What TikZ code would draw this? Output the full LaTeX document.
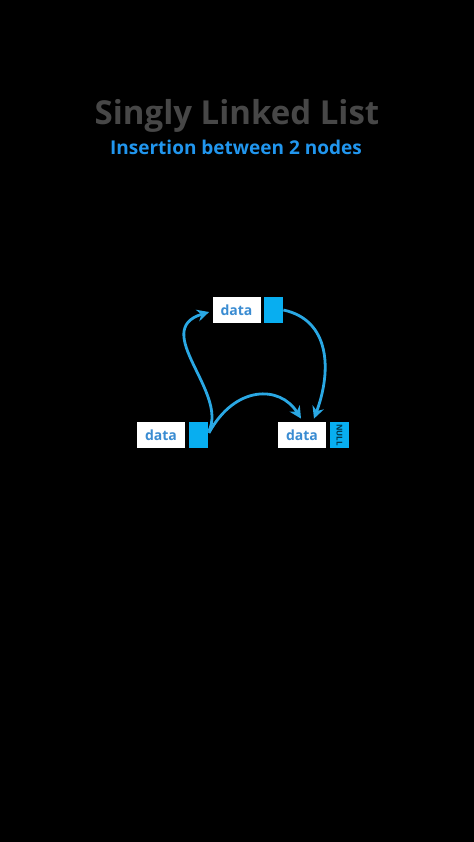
\documentclass[tikz,border=0pt]{standalone}
\usepackage{fontspec}
\setmainfont{Open Sans}
\usepackage{tikz}
\usetikzlibrary{arrows.meta}
\usetikzlibrary{calc}

\definecolor{titlegray}{HTML}{474747}
\definecolor{subblue}{HTML}{2196EE}
\definecolor{ptrblue}{HTML}{08AEF0}
\definecolor{linkblue}{HTML}{2AA8E4}
\definecolor{textblue}{HTML}{3A8CD2}

\tikzset{
  datacell/.style={draw=none, fill=white, minimum width=24pt, minimum height=13pt,
    inner sep=0pt, font=\fontsize{7}{7}\selectfont\bfseries, text=textblue},
  ptrcell/.style={draw=none, fill=ptrblue, minimum width=9.5pt, minimum height=13pt, inner sep=0pt},
  link/.style={draw=linkblue, line width=1.4pt, -{Stealth[length=6pt,width=6pt]}}
}

\begin{document}
\begin{tikzpicture}[x=0.5pt,y=-0.5pt]
\fill[black] (0,0) rectangle (474,842);
\useasboundingbox (0,0) rectangle (474,842);

% titles
\node (title) at (237,116) {\fontsize{16.5}{16.5}\selectfont\bfseries\color{titlegray}Singly Linked List};
\node (subtitle) at (236,147) {\fontsize{9.5}{9.5}\selectfont\bfseries\color{subblue}Insertion between 2 nodes};

% list nodes
\node[datacell] (tdata) at (236.5,310) {data};
\node[ptrcell] (tptr) at (273.5,310) {};
\node[datacell] (ldata) at (161,435) {data};
\node[ptrcell] (lptr) at (198,435) {};
\node[datacell] (rdata) at (302,435) {data};
\node[ptrcell] (rnull) at (339.5,435) {\rotatebox{-90}{\fontsize{4}{4}\selectfont\bfseries\color{black!70!ptrblue}NULL}};

% links
\draw[link] ($(lptr.east)+(1,-4)$) .. controls (228,392) and (150,330) .. ($(tdata.west)+(-3,2)$);
\draw[link] ($(lptr.east)+(1,-2)$) .. controls (235,385) and (280,385) .. ($(rdata.north)+(-1,-3)$);
\draw[link] (tptr.east) .. controls (330,320) and (332,370) .. ($(rdata.north)+(12,-3)$);
\end{tikzpicture}
\end{document}
